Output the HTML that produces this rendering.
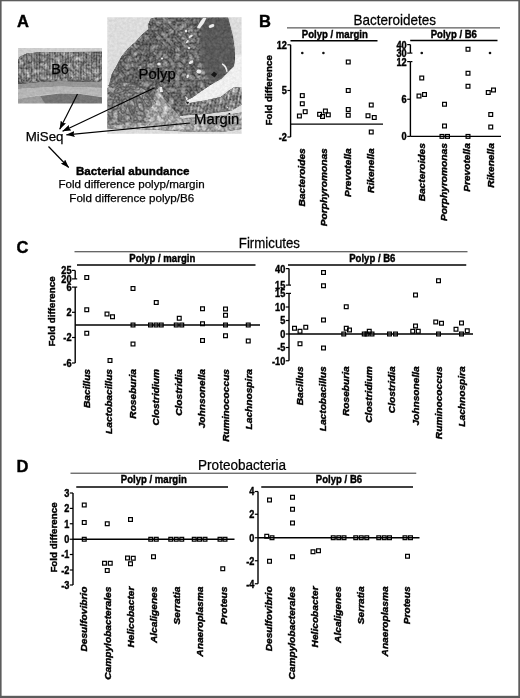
<!DOCTYPE html>
<html lang="en"><head><meta charset="utf-8"><title>Figure</title>
<style>
html,body{margin:0;padding:0;background:#fff}
svg{display:block}
text{font-family:"Liberation Sans",Arial,sans-serif;fill:#000;stroke:#000;stroke-width:0.25px}
text[font-weight=bold]{stroke-width:0.4px}
</style></head><body>
<svg width="520" height="698" viewBox="0 0 520 698">
<rect x="0" y="0" width="520" height="698" fill="#fff"/>
<g fill="#5c5c5c"><rect x="0" y="0" width="520" height="1.3"/><rect x="0" y="0" width="1.6" height="698"/><rect x="518.3" y="0" width="1.7" height="698"/><rect x="0" y="695.8" width="520" height="2.2"/></g>

<!--PANEL_A-->
<text x="17" y="27" font-weight="bold" font-size="16.5">A</text>
<defs>
<filter id="tex" x="0" y="0" width="100%" height="100%" color-interpolation-filters="sRGB">
<feTurbulence type="fractalNoise" baseFrequency="0.5" numOctaves="2" seed="7" result="t"/>
<feColorMatrix in="t" type="matrix" values="1 0 0 0 0  1 0 0 0 0  1 0 0 0 0  0 0 0 0 1" result="g"/>
<feTurbulence type="turbulence" baseFrequency="0.16" numOctaves="2" seed="23" result="t2"/>
<feColorMatrix in="t2" type="matrix" values="0 1 0 0 0  0 1 0 0 0  0 1 0 0 0  0 0 0 0 1" result="g2"/>
<feComposite in="SourceGraphic" in2="g" operator="arithmetic" k1="0" k2="1" k3="0.4" k4="-0.2" result="c"/>
<feComposite in="c" in2="g2" operator="arithmetic" k1="0" k2="1" k3="0.55" k4="-0.13" result="c2"/>
<feComposite in="c2" in2="SourceGraphic" operator="in"/>
</filter>
<filter id="texL" x="0" y="0" width="100%" height="100%" color-interpolation-filters="sRGB">
<feTurbulence type="fractalNoise" baseFrequency="0.4" numOctaves="2" seed="11" result="t"/>
<feColorMatrix in="t" type="matrix" values="1 0 0 0 0  1 0 0 0 0  1 0 0 0 0  0 0 0 0 1" result="g"/>
<feComposite in="SourceGraphic" in2="g" operator="arithmetic" k1="0" k2="1" k3="0.12" k4="-0.06" result="c"/>
<feComposite in="c" in2="SourceGraphic" operator="in"/>
</filter>
<filter id="b1" x="-20%" y="-20%" width="140%" height="140%"><feGaussianBlur stdDeviation="0.5"/></filter>
<filter id="b2" x="-5%" y="-5%" width="110%" height="110%"><feGaussianBlur stdDeviation="0.8"/></filter>
<pattern id="vst" width="2.6" height="8" patternUnits="userSpaceOnUse"><rect x="0" y="0" width="1.1" height="8" fill="#555"/><rect x="1.3" y="0" width="0.9" height="8" fill="#aaa"/></pattern>
<pattern id="vst2" width="3.4" height="8" patternUnits="userSpaceOnUse" patternTransform="rotate(12)"><rect x="0" y="0" width="1.3" height="8" fill="#4a4a4a"/><rect x="1.7" y="0" width="1.2" height="8" fill="#b4b4b4"/></pattern>
<clipPath id="cB6"><rect x="18" y="48" width="84" height="55.5"/></clipPath>
<clipPath id="cPo"><rect x="107.3" y="17.2" width="134.3" height="116.6"/></clipPath>
</defs>
<g id="imgB6" clip-path="url(#cB6)">
<g filter="url(#texL)">
<rect x="17" y="47" width="86" height="58" fill="#cecece"/>
<path d="M17,82.5 L40,81 L60,80.5 L103,81.5 L103,88 L60,86.5 L17,89 Z" fill="#969696"/>
<path d="M17,89 L60,86.5 L103,88 L103,97 L80,93.5 L60,93 L40,95 L17,99 Z" fill="#b6b6b6"/>
<path d="M17,100 L40,96 L60,93.6 L80,94 L103,97.5 L103,105 L17,105 Z" fill="#747474"/>
<path d="M17,99 L40,95.5 L46,105 L17,105 Z" fill="#9c9c9c"/>
</g>
<g filter="url(#tex)">
<path d="M17,62 L20,56.5 L27,53.4 L40,52.3 L103,51.8 L103,82 L60,81 L40,82 L17,84 Z" fill="#767676"/>
<path d="M17,62 L20,56.5 L27,53.4 L40,52.3 L103,51.8 L103,80 L60,79 L40,80 L17,82 Z" fill="url(#vst)" opacity="0.6"/>
</g>
</g>
<g id="imgPolyp" clip-path="url(#cPo)">
<g filter="url(#texL)"><rect x="107" y="17" width="135" height="117" fill="#dcdcdc"/><path d="M236,55 L242,55 L242,90 L228,93 L207,101 L188,104 L187,98 L201,90 L211,83 L221,77 L229,69 L234,63 Z" fill="#efefef" filter="url(#b2)"/></g>
<g filter="url(#tex)">
<g filter="url(#b1)">
<path d="M107,123 L150,116.5 L185,118 L215,116.5 L242,112.5 L242,129 L225,131.5 L185,131.5 L150,129.5 L107,128.5 Z" fill="#a0a0a0"/>
<path d="M150.8,18.4 L155,17.4 L228,17.4 L232.9,36.5 L235,52 L235,60 L233.75,66.25 L229.4,70.6 L226.25,73.75 L221.25,78.75 L211.25,84.4 L201.25,91.25 L192.5,97.5 L186.5,100.6 L183,116 L166,114 L150,112 L131.7,121 L111.5,121.5 L107,122.5 L107,95 L108.5,91.7 L109.7,82.3 L111.7,74.2 L116.4,66.1 L121.2,56.7 L127.9,48.6 L135.3,41.9 L141.3,35.2 L148.5,29 L147.8,25 L150.8,18.4 Z" fill="#676767"/>
<path d="M107,88 L118,83.5 L132,82 L145.4,90.4 L154.8,103.8 L149.4,122.7 L131.7,123 L107,125.4 Z" fill="#7c7c7c"/>
<path d="M156,90 L159,88 L163,97 L172,108 L180,117 L166,119.5 L144,121.5 L151,105 Z" fill="#a2a2a2"/>
<path d="M187,103.5 L207,100 L220.8,97 L228.5,90.8 L234.6,87 L242,87.7 L242,104.6 L231.5,110.8 L208.5,113.8 L183,115.5 L186,101 Z" fill="#7e7e7e"/>
<path d="M187,103.5 L207,100 L220.8,97 L228.5,90.8 L234.6,87 L242,87.7 L242,104.6 L231.5,109.8 L208.5,112.8 L185.4,113.5 Z" fill="url(#vst2)" opacity="0.45"/>
</g>
</g>
<g filter="url(#texL)"><path d="M201,19 L228,17 L232.9,36.5 L235,52 L235,60 L233.75,66.25 L229.4,70.6 L226.25,73.75 L221.25,78.75 L212,83.5 L205,76 L199,55 Z" fill="#5a5a5a" opacity="0.85" filter="url(#b2)"/></g>
<g fill="none" stroke="#555" stroke-width="1.1" opacity="0.8" filter="url(#b1)">
<ellipse cx="116" cy="103" rx="3" ry="7" transform="rotate(15 116 103)"/>
<ellipse cx="124" cy="106" rx="3" ry="7.5" transform="rotate(10 124 106)"/>
<ellipse cx="132" cy="106" rx="3" ry="8" transform="rotate(-5 132 106)"/>
<ellipse cx="140" cy="104" rx="3" ry="8" transform="rotate(-20 140 104)"/>
<ellipse cx="147" cy="101" rx="2.6" ry="7" transform="rotate(-35 147 101)"/>
<ellipse cx="120" cy="90" rx="6" ry="2.5" transform="rotate(-20 120 90)"/>
<ellipse cx="134" cy="87" rx="6" ry="2.5" transform="rotate(15 134 87)"/>
<path d="M108,86 C118,80 132,80 146,90 L156,103"/>
</g>
<path d="M214,71.4 l3.2,2.6 l-2.6,3.4 l-3.6,-2.6 Z" fill="#161616"/>
<path d="M185.6,101.5 l3.6,0.4 l-1.6,2.4 Z" fill="#1c1c1c"/>
<g fill="#ececec" filter="url(#b1)">
<ellipse cx="191" cy="62.2" rx="2.6" ry="1.4" transform="rotate(-30 191 62.2)"/>
<ellipse cx="198.8" cy="71.5" rx="2.4" ry="1.9"/>
<ellipse cx="187.7" cy="76.3" rx="1.2" ry="2" transform="rotate(15 187.7 76.3)"/>
<ellipse cx="211.5" cy="26" rx="3" ry="1.6" transform="rotate(-20 211.5 26)"/>
<ellipse cx="190.6" cy="36.4" rx="2.4" ry="1.1" transform="rotate(-35 190.6 36.4)"/><ellipse cx="187.3" cy="41.6" rx="1.8" ry="0.9" transform="rotate(-50 187.3 41.6)"/><ellipse cx="159" cy="64" rx="1.8" ry="1.6"/><ellipse cx="162" cy="58.6" rx="1.2" ry="1"/><ellipse cx="186" cy="31" rx="1.2" ry="1.6"/>
<ellipse cx="189" cy="47.9" rx="1.3" ry="1"/>

<path d="M203,18 L206.5,18 L204,23 L199.8,28.5 L196.8,27.5 L200,22 Z"/>
<path d="M159.5,87 l2.5,0 l1,5 l-3,0 Z"/>
<path d="M222.3,63.2 q4.8,1.6 5.4,8.6 l-1.4,0.2 q-0.8,-5 -4.6,-7.4 Z"/>
<path d="M185.2,96 l3.2,3 l-2.4,1.2 Z"/>
</g>
</g>

<text x="51.3" y="74.2" font-size="14.3">B6</text>
<text x="138.6" y="79.3" font-size="14.8">Polyp</text>
<text x="194.1" y="123.9" font-size="14.8">Margin</text>
<text x="25.8" y="141.4" font-size="13.3">MiSeq</text>
<text x="76" y="174.5" font-weight="bold" font-size="11.6">Bacterial abundance</text>
<text x="58.5" y="188.2" font-size="11.6">Fold difference polyp/margin</text>
<text x="69.3" y="202" font-size="11.6">Fold difference polyp/B6</text>
<defs><marker id="ah" markerWidth="9" markerHeight="6" refX="8.3" refY="3" orient="auto" markerUnits="userSpaceOnUse"><path d="M0,0 L8.6,3 L0,6 L1.2,3 Z" fill="#000"/></marker></defs>
<g stroke="#000" stroke-width="1.2" fill="none" marker-end="url(#ah)">
<line x1="77.5" y1="94" x2="59.7" y2="129.3"/>
<line x1="154.6" y1="87.7" x2="62.6" y2="131.2"/>
<line x1="190.4" y1="123" x2="66.4" y2="134.8"/>
<line x1="48.5" y1="146.5" x2="68.7" y2="167.5"/>
</g>
<!--PANEL_B-->
<text x="259" y="27" font-weight="bold" font-size="16.5">B</text>
<text transform="translate(394.8,25.4) scale(0.939,1)" text-anchor="middle" font-size="14.4">Bacteroidetes</text>
<line x1="287" y1="27.9" x2="500" y2="27.9" stroke="#333" stroke-width="1.0"/>
<text transform="translate(334.8,37.90) scale(0.93,1)" text-anchor="middle" font-weight="bold" font-size="10.3">Polyp / margin</text>
<line x1="290.5" y1="40.7" x2="377.5" y2="40.7" stroke="#000" stroke-width="1.5"/>
<line x1="290.6" y1="44.8" x2="290.6" y2="137" stroke="#000" stroke-width="1.4"/>
<line x1="287.40000000000003" y1="44.8" x2="290.6" y2="44.8" stroke="#000" stroke-width="1.2"/>
<text transform="translate(286.90,48.70) scale(0.9,1)" text-anchor="end" font-weight="bold" font-size="10.2">12</text>
<line x1="287.40000000000003" y1="90.5" x2="290.6" y2="90.5" stroke="#000" stroke-width="1.2"/>
<text transform="translate(286.90,94.40) scale(0.9,1)" text-anchor="end" font-weight="bold" font-size="10.2">5</text>
<line x1="287.40000000000003" y1="137" x2="290.6" y2="137" stroke="#000" stroke-width="1.2"/>
<text transform="translate(286.90,140.90) scale(0.9,1)" text-anchor="end" font-weight="bold" font-size="10.2">-2</text>
<line x1="290.6" y1="124.2" x2="383" y2="124.2" stroke="#000" stroke-width="1.3"/>
<text transform="translate(271.75,90.3) rotate(-90) scale(1.09,1)" text-anchor="middle" font-weight="bold" font-size="9">Fold difference</text>
<g fill="#111"><circle cx="302.3" cy="53" r="1.3"/><circle cx="323.4" cy="53" r="1.3"/></g>
<g fill="none" stroke="#000" stroke-width="1.2"><rect x="300.40" y="93.70" width="3.8" height="3.8"/><rect x="300.40" y="101.85" width="3.8" height="3.8"/><rect x="303.30" y="109.80" width="3.8" height="3.8"/><rect x="297.50" y="114.10" width="3.8" height="3.8"/><rect x="323.50" y="109.10" width="3.8" height="3.8"/><rect x="317.70" y="112.40" width="3.8" height="3.8"/><rect x="320.60" y="114.60" width="3.8" height="3.8"/><rect x="326.40" y="112.90" width="3.8" height="3.8"/><rect x="346.35" y="60.10" width="3.8" height="3.8"/><rect x="346.35" y="88.60" width="3.8" height="3.8"/><rect x="346.35" y="107.60" width="3.8" height="3.8"/><rect x="346.35" y="113.35" width="3.8" height="3.8"/><rect x="369.35" y="103.10" width="3.8" height="3.8"/><rect x="366.10" y="113.85" width="3.8" height="3.8"/><rect x="372.35" y="115.60" width="3.8" height="3.8"/><rect x="369.35" y="130.10" width="3.8" height="3.8"/></g>
<text transform="translate(305.40,148.3) rotate(-90) scale(1.13,1)" text-anchor="end" font-weight="bold" font-style="italic" font-size="9">Bacteroides</text>
<text transform="translate(327.40,148.3) rotate(-90) scale(1.13,1)" text-anchor="end" font-weight="bold" font-style="italic" font-size="9">Porphyromonas</text>
<text transform="translate(350.90,148.3) rotate(-90) scale(1.13,1)" text-anchor="end" font-weight="bold" font-style="italic" font-size="9">Prevotella</text>
<text transform="translate(374.40,148.3) rotate(-90) scale(1.13,1)" text-anchor="end" font-weight="bold" font-style="italic" font-size="9">Rikenella</text>
<text transform="translate(453.8,37.90) scale(0.93,1)" text-anchor="middle" font-weight="bold" font-size="10.3">Polyp / B6</text>
<line x1="410.2" y1="40.6" x2="497.5" y2="40.6" stroke="#000" stroke-width="1.5"/>
<line x1="410.4" y1="44.6" x2="410.4" y2="53.1" stroke="#000" stroke-width="1.4"/>
<line x1="410.4" y1="61.6" x2="410.4" y2="136.4" stroke="#000" stroke-width="1.4"/>
<line x1="407.2" y1="44.6" x2="410.4" y2="44.6" stroke="#000" stroke-width="1.2"/>
<text transform="translate(406.70,48.50) scale(0.9,1)" text-anchor="end" font-weight="bold" font-size="10.2">40</text>
<line x1="407.2" y1="53.1" x2="410.4" y2="53.1" stroke="#000" stroke-width="1.2"/>
<text transform="translate(406.70,57.00) scale(0.9,1)" text-anchor="end" font-weight="bold" font-size="10.2">30</text>
<line x1="407.2" y1="61.6" x2="410.4" y2="61.6" stroke="#000" stroke-width="1.2"/>
<text transform="translate(406.70,65.50) scale(0.9,1)" text-anchor="end" font-weight="bold" font-size="10.2">12</text>
<line x1="407.2" y1="99.25" x2="410.4" y2="99.25" stroke="#000" stroke-width="1.2"/>
<text transform="translate(406.70,103.15) scale(0.9,1)" text-anchor="end" font-weight="bold" font-size="10.2">6</text>
<line x1="407.2" y1="136.4" x2="410.4" y2="136.4" stroke="#000" stroke-width="1.2"/>
<text transform="translate(406.70,140.30) scale(0.9,1)" text-anchor="end" font-weight="bold" font-size="10.2">0</text>
<line x1="410.4" y1="136.4" x2="501" y2="136.4" stroke="#000" stroke-width="1.3"/>
<line x1="410.4" y1="53.1" x2="412.4" y2="53.1" stroke="#000" stroke-width="1.2"/>
<line x1="410.4" y1="61.6" x2="412.4" y2="61.6" stroke="#000" stroke-width="1.2"/>
<g fill="#111"><circle cx="421.75" cy="53" r="1.3"/><circle cx="490" cy="53" r="1.3"/></g>
<g fill="none" stroke="#000" stroke-width="1.2"><rect x="419.85" y="76.10" width="3.8" height="3.8"/><rect x="417.10" y="94.10" width="3.8" height="3.8"/><rect x="422.60" y="92.60" width="3.8" height="3.8"/><rect x="442.60" y="102.35" width="3.8" height="3.8"/><rect x="442.60" y="124.10" width="3.8" height="3.8"/><rect x="440.10" y="134.50" width="3.8" height="3.8"/><rect x="445.60" y="134.50" width="3.8" height="3.8"/><rect x="466.10" y="47.35" width="3.8" height="3.8"/><rect x="466.10" y="71.35" width="3.8" height="3.8"/><rect x="466.10" y="84.35" width="3.8" height="3.8"/><rect x="466.10" y="134.50" width="3.8" height="3.8"/><rect x="486.35" y="90.60" width="3.8" height="3.8"/><rect x="491.60" y="88.10" width="3.8" height="3.8"/><rect x="488.85" y="112.60" width="3.8" height="3.8"/><rect x="488.85" y="125.10" width="3.8" height="3.8"/></g>
<text transform="translate(424.65,143.2) rotate(-90) scale(1.13,1)" text-anchor="end" font-weight="bold" font-style="italic" font-size="9">Bacteroides</text>
<text transform="translate(447.40,143.2) rotate(-90) scale(1.13,1)" text-anchor="end" font-weight="bold" font-style="italic" font-size="9">Porphyromonas</text>
<text transform="translate(470.40,143.2) rotate(-90) scale(1.13,1)" text-anchor="end" font-weight="bold" font-style="italic" font-size="9">Prevotella</text>
<text transform="translate(493.65,143.2) rotate(-90) scale(1.13,1)" text-anchor="end" font-weight="bold" font-style="italic" font-size="9">Rikenella</text>
<!--PANEL_C-->
<text x="16.5" y="253" font-weight="bold" font-size="16.5">C</text>
<text transform="translate(269.4,247.5) scale(0.922,1)" text-anchor="middle" font-size="14.4">Firmicutes</text>
<line x1="74.5" y1="251.75" x2="467.5" y2="251.75" stroke="#333" stroke-width="1.0"/>
<text transform="translate(162.3,261.90) scale(0.93,1)" text-anchor="middle" font-weight="bold" font-size="10.3">Polyp / margin</text>
<line x1="77" y1="265" x2="255.5" y2="265" stroke="#000" stroke-width="1.5"/>
<line x1="75.2" y1="270.4" x2="75.2" y2="278.9" stroke="#000" stroke-width="1.4"/>
<line x1="75.2" y1="287.1" x2="75.2" y2="363" stroke="#000" stroke-width="1.4"/>
<line x1="72.0" y1="270.4" x2="75.2" y2="270.4" stroke="#000" stroke-width="1.2"/>
<text transform="translate(71.50,274.30) scale(0.9,1)" text-anchor="end" font-weight="bold" font-size="10.2">25</text>
<line x1="72.0" y1="278.9" x2="75.2" y2="278.9" stroke="#000" stroke-width="1.2"/>
<text transform="translate(71.50,282.80) scale(0.9,1)" text-anchor="end" font-weight="bold" font-size="10.2">20</text>
<line x1="72.0" y1="287.1" x2="75.2" y2="287.1" stroke="#000" stroke-width="1.2"/>
<text transform="translate(71.50,291.00) scale(0.9,1)" text-anchor="end" font-weight="bold" font-size="10.2">6</text>
<line x1="72.0" y1="312.3" x2="75.2" y2="312.3" stroke="#000" stroke-width="1.2"/>
<text transform="translate(71.50,316.20) scale(0.9,1)" text-anchor="end" font-weight="bold" font-size="10.2">2</text>
<line x1="72.0" y1="337.5" x2="75.2" y2="337.5" stroke="#000" stroke-width="1.2"/>
<text transform="translate(71.50,341.40) scale(0.9,1)" text-anchor="end" font-weight="bold" font-size="10.2">-2</text>
<line x1="72.0" y1="363" x2="75.2" y2="363" stroke="#000" stroke-width="1.2"/>
<text transform="translate(71.50,366.90) scale(0.9,1)" text-anchor="end" font-weight="bold" font-size="10.2">-6</text>
<line x1="75.2" y1="325" x2="260" y2="325" stroke="#000" stroke-width="1.3"/>
<line x1="75.2" y1="278.9" x2="77.2" y2="278.9" stroke="#000" stroke-width="1.2"/>
<line x1="75.2" y1="287.1" x2="77.2" y2="287.1" stroke="#000" stroke-width="1.2"/>
<text transform="translate(55.00,311.5) rotate(-90) scale(1.09,1)" text-anchor="middle" font-weight="bold" font-size="9">Fold difference</text>
<g fill="none" stroke="#000" stroke-width="1.2"><rect x="84.85" y="275.60" width="3.8" height="3.8"/><rect x="84.85" y="307.85" width="3.8" height="3.8"/><rect x="84.85" y="331.35" width="3.8" height="3.8"/><rect x="105.10" y="312.10" width="3.8" height="3.8"/><rect x="110.60" y="314.85" width="3.8" height="3.8"/><rect x="108.10" y="358.60" width="3.8" height="3.8"/><rect x="131.10" y="286.60" width="3.8" height="3.8"/><rect x="131.10" y="323.10" width="3.8" height="3.8"/><rect x="131.10" y="342.10" width="3.8" height="3.8"/><rect x="154.35" y="300.60" width="3.8" height="3.8"/><rect x="148.60" y="323.10" width="3.8" height="3.8"/><rect x="154.10" y="323.10" width="3.8" height="3.8"/><rect x="159.35" y="323.10" width="3.8" height="3.8"/><rect x="177.35" y="316.35" width="3.8" height="3.8"/><rect x="174.35" y="323.10" width="3.8" height="3.8"/><rect x="179.85" y="323.10" width="3.8" height="3.8"/><rect x="200.60" y="306.85" width="3.8" height="3.8"/><rect x="200.60" y="321.85" width="3.8" height="3.8"/><rect x="200.60" y="338.60" width="3.8" height="3.8"/><rect x="223.60" y="307.10" width="3.8" height="3.8"/><rect x="223.60" y="313.35" width="3.8" height="3.8"/><rect x="223.60" y="323.10" width="3.8" height="3.8"/><rect x="223.60" y="333.85" width="3.8" height="3.8"/><rect x="246.35" y="323.10" width="3.8" height="3.8"/><rect x="246.35" y="339.10" width="3.8" height="3.8"/></g>
<text transform="translate(89.90,369) rotate(-90) scale(1.13,1)" text-anchor="end" font-weight="bold" font-style="italic" font-size="9">Bacillus</text>
<text transform="translate(112.20,369) rotate(-90) scale(1.13,1)" text-anchor="end" font-weight="bold" font-style="italic" font-size="9">Lactobacillus</text>
<text transform="translate(135.60,369) rotate(-90) scale(1.13,1)" text-anchor="end" font-weight="bold" font-style="italic" font-size="9">Roseburia</text>
<text transform="translate(158.60,369) rotate(-90) scale(1.13,1)" text-anchor="end" font-weight="bold" font-style="italic" font-size="9">Clostridium</text>
<text transform="translate(181.60,369) rotate(-90) scale(1.13,1)" text-anchor="end" font-weight="bold" font-style="italic" font-size="9">Clostridia</text>
<text transform="translate(205.10,369) rotate(-90) scale(1.13,1)" text-anchor="end" font-weight="bold" font-style="italic" font-size="9">Johnsonella</text>
<text transform="translate(228.50,369) rotate(-90) scale(1.13,1)" text-anchor="end" font-weight="bold" font-style="italic" font-size="9">Ruminococcus</text>
<text transform="translate(251.50,369) rotate(-90) scale(1.13,1)" text-anchor="end" font-weight="bold" font-style="italic" font-size="9">Lachnospira</text>
<text transform="translate(372.3,261.90) scale(0.93,1)" text-anchor="middle" font-weight="bold" font-size="10.3">Polyp / B6</text>
<line x1="288" y1="265" x2="466.25" y2="265" stroke="#000" stroke-width="1.5"/>
<line x1="289.0" y1="268.6" x2="289.0" y2="285.1" stroke="#000" stroke-width="1.4"/>
<line x1="289.0" y1="293.4" x2="289.0" y2="360.75" stroke="#000" stroke-width="1.4"/>
<line x1="285.8" y1="268.6" x2="289.0" y2="268.6" stroke="#000" stroke-width="1.2"/>
<text transform="translate(285.30,272.50) scale(0.9,1)" text-anchor="end" font-weight="bold" font-size="10.2">40</text>
<line x1="285.8" y1="285.1" x2="289.0" y2="285.1" stroke="#000" stroke-width="1.2"/>
<text transform="translate(285.30,289.00) scale(0.9,1)" text-anchor="end" font-weight="bold" font-size="10.2">15</text>
<line x1="285.8" y1="293.4" x2="289.0" y2="293.4" stroke="#000" stroke-width="1.2"/>
<text transform="translate(285.30,297.30) scale(0.9,1)" text-anchor="end" font-weight="bold" font-size="10.2">15</text>
<line x1="285.8" y1="307" x2="289.0" y2="307" stroke="#000" stroke-width="1.2"/>
<text transform="translate(285.30,310.90) scale(0.9,1)" text-anchor="end" font-weight="bold" font-size="10.2">10</text>
<line x1="285.8" y1="320.5" x2="289.0" y2="320.5" stroke="#000" stroke-width="1.2"/>
<text transform="translate(285.30,324.40) scale(0.9,1)" text-anchor="end" font-weight="bold" font-size="10.2">5</text>
<line x1="285.8" y1="334" x2="289.0" y2="334" stroke="#000" stroke-width="1.2"/>
<text transform="translate(285.30,337.90) scale(0.9,1)" text-anchor="end" font-weight="bold" font-size="10.2">0</text>
<line x1="285.8" y1="347.5" x2="289.0" y2="347.5" stroke="#000" stroke-width="1.2"/>
<text transform="translate(285.30,351.40) scale(0.9,1)" text-anchor="end" font-weight="bold" font-size="10.2">-5</text>
<line x1="285.8" y1="360.75" x2="289.0" y2="360.75" stroke="#000" stroke-width="1.2"/>
<text transform="translate(285.30,364.65) scale(0.9,1)" text-anchor="end" font-weight="bold" font-size="10.2">-10</text>
<line x1="289.0" y1="334" x2="473" y2="334" stroke="#000" stroke-width="1.3"/>
<line x1="289.0" y1="285.1" x2="291" y2="285.1" stroke="#000" stroke-width="1.2"/>
<line x1="289.0" y1="293.4" x2="291" y2="293.4" stroke="#000" stroke-width="1.2"/>
<g fill="none" stroke="#000" stroke-width="1.2"><rect x="292.60" y="326.35" width="3.8" height="3.8"/><rect x="298.10" y="329.35" width="3.8" height="3.8"/><rect x="303.85" y="325.35" width="3.8" height="3.8"/><rect x="298.10" y="341.85" width="3.8" height="3.8"/><rect x="321.60" y="270.60" width="3.8" height="3.8"/><rect x="321.60" y="283.85" width="3.8" height="3.8"/><rect x="321.60" y="318.10" width="3.8" height="3.8"/><rect x="321.60" y="346.10" width="3.8" height="3.8"/><rect x="344.35" y="304.85" width="3.8" height="3.8"/><rect x="344.35" y="326.35" width="3.8" height="3.8"/><rect x="347.60" y="328.10" width="3.8" height="3.8"/><rect x="341.85" y="332.10" width="3.8" height="3.8"/><rect x="367.35" y="329.35" width="3.8" height="3.8"/><rect x="362.35" y="332.10" width="3.8" height="3.8"/><rect x="365.10" y="332.10" width="3.8" height="3.8"/><rect x="370.10" y="332.10" width="3.8" height="3.8"/><rect x="387.60" y="332.10" width="3.8" height="3.8"/><rect x="393.60" y="332.10" width="3.8" height="3.8"/><rect x="413.60" y="293.10" width="3.8" height="3.8"/><rect x="413.60" y="324.10" width="3.8" height="3.8"/><rect x="410.85" y="329.35" width="3.8" height="3.8"/><rect x="416.35" y="329.35" width="3.8" height="3.8"/><rect x="436.60" y="278.85" width="3.8" height="3.8"/><rect x="433.85" y="320.10" width="3.8" height="3.8"/><rect x="439.60" y="321.35" width="3.8" height="3.8"/><rect x="436.60" y="332.10" width="3.8" height="3.8"/><rect x="459.60" y="321.10" width="3.8" height="3.8"/><rect x="454.10" y="327.35" width="3.8" height="3.8"/><rect x="465.35" y="328.85" width="3.8" height="3.8"/><rect x="459.60" y="332.10" width="3.8" height="3.8"/></g>
<text transform="translate(303.20,366.3) rotate(-90) scale(1.13,1)" text-anchor="end" font-weight="bold" font-style="italic" font-size="9">Bacillus</text>
<text transform="translate(326.20,366.3) rotate(-90) scale(1.13,1)" text-anchor="end" font-weight="bold" font-style="italic" font-size="9">Lactobacillus</text>
<text transform="translate(348.90,366.3) rotate(-90) scale(1.13,1)" text-anchor="end" font-weight="bold" font-style="italic" font-size="9">Roseburia</text>
<text transform="translate(372.40,366.3) rotate(-90) scale(1.13,1)" text-anchor="end" font-weight="bold" font-style="italic" font-size="9">Clostridium</text>
<text transform="translate(395.30,366.3) rotate(-90) scale(1.13,1)" text-anchor="end" font-weight="bold" font-style="italic" font-size="9">Clostridia</text>
<text transform="translate(418.90,366.3) rotate(-90) scale(1.13,1)" text-anchor="end" font-weight="bold" font-style="italic" font-size="9">Johnsonella</text>
<text transform="translate(441.70,366.3) rotate(-90) scale(1.13,1)" text-anchor="end" font-weight="bold" font-style="italic" font-size="9">Ruminococcus</text>
<text transform="translate(464.70,366.3) rotate(-90) scale(1.13,1)" text-anchor="end" font-weight="bold" font-style="italic" font-size="9">Lachnospira</text>
<!--PANEL_D-->
<text x="16.5" y="471.7" font-weight="bold" font-size="16.5">D</text>
<text transform="translate(242.1,470) scale(0.942,1)" text-anchor="middle" font-size="14.4">Proteobacteria</text>
<line x1="70.5" y1="473.2" x2="416.25" y2="473.2" stroke="#333" stroke-width="1.0"/>
<text transform="translate(153.75,483.40) scale(0.93,1)" text-anchor="middle" font-weight="bold" font-size="10.3">Polyp / margin</text>
<line x1="76.25" y1="487" x2="228" y2="487" stroke="#000" stroke-width="1.5"/>
<line x1="73" y1="493" x2="73" y2="585" stroke="#000" stroke-width="1.4"/>
<line x1="69.8" y1="493" x2="73" y2="493" stroke="#000" stroke-width="1.2"/>
<text transform="translate(69.30,496.90) scale(0.9,1)" text-anchor="end" font-weight="bold" font-size="10.2">3</text>
<line x1="69.8" y1="508.4" x2="73" y2="508.4" stroke="#000" stroke-width="1.2"/>
<text transform="translate(69.30,512.30) scale(0.9,1)" text-anchor="end" font-weight="bold" font-size="10.2">2</text>
<line x1="69.8" y1="523.75" x2="73" y2="523.75" stroke="#000" stroke-width="1.2"/>
<text transform="translate(69.30,527.65) scale(0.9,1)" text-anchor="end" font-weight="bold" font-size="10.2">1</text>
<line x1="69.8" y1="539.25" x2="73" y2="539.25" stroke="#000" stroke-width="1.2"/>
<text transform="translate(69.30,543.15) scale(0.9,1)" text-anchor="end" font-weight="bold" font-size="10.2">0</text>
<line x1="69.8" y1="554.5" x2="73" y2="554.5" stroke="#000" stroke-width="1.2"/>
<text transform="translate(69.30,558.40) scale(0.9,1)" text-anchor="end" font-weight="bold" font-size="10.2">-1</text>
<line x1="69.8" y1="570" x2="73" y2="570" stroke="#000" stroke-width="1.2"/>
<text transform="translate(69.30,573.90) scale(0.9,1)" text-anchor="end" font-weight="bold" font-size="10.2">-2</text>
<line x1="69.8" y1="585" x2="73" y2="585" stroke="#000" stroke-width="1.2"/>
<text transform="translate(69.30,588.90) scale(0.9,1)" text-anchor="end" font-weight="bold" font-size="10.2">-3</text>
<line x1="73" y1="539.25" x2="234.5" y2="539.25" stroke="#000" stroke-width="1.3"/>
<text transform="translate(56.75,537.5) rotate(-90) scale(1.09,1)" text-anchor="middle" font-weight="bold" font-size="9">Fold difference</text>
<g fill="none" stroke="#000" stroke-width="1.2"><rect x="82.35" y="503.10" width="3.8" height="3.8"/><rect x="82.35" y="520.60" width="3.8" height="3.8"/><rect x="82.35" y="537.35" width="3.8" height="3.8"/><rect x="105.35" y="521.85" width="3.8" height="3.8"/><rect x="102.60" y="561.35" width="3.8" height="3.8"/><rect x="108.35" y="561.35" width="3.8" height="3.8"/><rect x="105.35" y="568.60" width="3.8" height="3.8"/><rect x="128.60" y="517.60" width="3.8" height="3.8"/><rect x="125.60" y="556.10" width="3.8" height="3.8"/><rect x="131.35" y="556.35" width="3.8" height="3.8"/><rect x="128.60" y="561.85" width="3.8" height="3.8"/><rect x="148.85" y="537.35" width="3.8" height="3.8"/><rect x="154.35" y="537.35" width="3.8" height="3.8"/><rect x="151.60" y="554.85" width="3.8" height="3.8"/><rect x="168.85" y="537.35" width="3.8" height="3.8"/><rect x="174.35" y="537.35" width="3.8" height="3.8"/><rect x="179.85" y="537.35" width="3.8" height="3.8"/><rect x="192.35" y="537.35" width="3.8" height="3.8"/><rect x="197.60" y="537.35" width="3.8" height="3.8"/><rect x="203.10" y="537.35" width="3.8" height="3.8"/><rect x="218.10" y="537.35" width="3.8" height="3.8"/><rect x="223.10" y="537.35" width="3.8" height="3.8"/><rect x="220.85" y="566.85" width="3.8" height="3.8"/></g>
<text transform="translate(87.20,586.6) rotate(-90) scale(1.13,1)" text-anchor="end" font-weight="bold" font-style="italic" font-size="9">Desulfovibrio</text>
<text transform="translate(110.70,586.6) rotate(-90) scale(1.13,1)" text-anchor="end" font-weight="bold" font-style="italic" font-size="9">Campylobacterales</text>
<text transform="translate(133.70,586.6) rotate(-90) scale(1.13,1)" text-anchor="end" font-weight="bold" font-style="italic" font-size="9">Helicobacter</text>
<text transform="translate(157.10,586.6) rotate(-90) scale(1.13,1)" text-anchor="end" font-weight="bold" font-style="italic" font-size="9">Alcaligenes</text>
<text transform="translate(180.10,586.6) rotate(-90) scale(1.13,1)" text-anchor="end" font-weight="bold" font-style="italic" font-size="9">Serratia</text>
<text transform="translate(203.10,586.6) rotate(-90) scale(1.13,1)" text-anchor="end" font-weight="bold" font-style="italic" font-size="9">Anaeroplasma</text>
<text transform="translate(226.60,586.6) rotate(-90) scale(1.13,1)" text-anchor="end" font-weight="bold" font-style="italic" font-size="9">Proteus</text>
<text transform="translate(339,483.40) scale(0.93,1)" text-anchor="middle" font-weight="bold" font-size="10.3">Polyp / B6</text>
<line x1="261.25" y1="487" x2="413" y2="487" stroke="#000" stroke-width="1.5"/>
<line x1="258" y1="491.5" x2="258" y2="583.75" stroke="#000" stroke-width="1.4"/>
<line x1="254.8" y1="491.5" x2="258" y2="491.5" stroke="#000" stroke-width="1.2"/>
<text transform="translate(254.30,495.40) scale(0.9,1)" text-anchor="end" font-weight="bold" font-size="10.2">4</text>
<line x1="254.8" y1="514.25" x2="258" y2="514.25" stroke="#000" stroke-width="1.2"/>
<text transform="translate(254.30,518.15) scale(0.9,1)" text-anchor="end" font-weight="bold" font-size="10.2">2</text>
<line x1="254.8" y1="537.75" x2="258" y2="537.75" stroke="#000" stroke-width="1.2"/>
<text transform="translate(254.30,541.65) scale(0.9,1)" text-anchor="end" font-weight="bold" font-size="10.2">0</text>
<line x1="254.8" y1="560.75" x2="258" y2="560.75" stroke="#000" stroke-width="1.2"/>
<text transform="translate(254.30,564.65) scale(0.9,1)" text-anchor="end" font-weight="bold" font-size="10.2">-2</text>
<line x1="254.8" y1="583.75" x2="258" y2="583.75" stroke="#000" stroke-width="1.2"/>
<text transform="translate(254.30,587.65) scale(0.9,1)" text-anchor="end" font-weight="bold" font-size="10.2">-4</text>
<line x1="258" y1="537.75" x2="419.5" y2="537.75" stroke="#000" stroke-width="1.3"/>
<g fill="none" stroke="#000" stroke-width="1.2"><rect x="267.60" y="498.10" width="3.8" height="3.8"/><rect x="264.85" y="534.35" width="3.8" height="3.8"/><rect x="270.10" y="535.85" width="3.8" height="3.8"/><rect x="267.60" y="559.35" width="3.8" height="3.8"/><rect x="290.60" y="495.35" width="3.8" height="3.8"/><rect x="290.60" y="507.35" width="3.8" height="3.8"/><rect x="290.60" y="521.10" width="3.8" height="3.8"/><rect x="290.60" y="554.85" width="3.8" height="3.8"/><rect x="311.10" y="549.85" width="3.8" height="3.8"/><rect x="316.60" y="548.85" width="3.8" height="3.8"/><rect x="331.35" y="535.85" width="3.8" height="3.8"/><rect x="336.85" y="535.85" width="3.8" height="3.8"/><rect x="342.10" y="535.85" width="3.8" height="3.8"/><rect x="353.85" y="535.85" width="3.8" height="3.8"/><rect x="359.35" y="535.85" width="3.8" height="3.8"/><rect x="364.85" y="535.85" width="3.8" height="3.8"/><rect x="376.85" y="535.85" width="3.8" height="3.8"/><rect x="382.35" y="535.85" width="3.8" height="3.8"/><rect x="387.60" y="535.85" width="3.8" height="3.8"/><rect x="403.10" y="535.85" width="3.8" height="3.8"/><rect x="408.60" y="535.85" width="3.8" height="3.8"/><rect x="405.60" y="554.35" width="3.8" height="3.8"/></g>
<text transform="translate(271.90,586.4) rotate(-90) scale(1.13,1)" text-anchor="end" font-weight="bold" font-style="italic" font-size="9">Desulfovibrio</text>
<text transform="translate(295.40,586.4) rotate(-90) scale(1.13,1)" text-anchor="end" font-weight="bold" font-style="italic" font-size="9">Campylobacterales</text>
<text transform="translate(317.90,586.4) rotate(-90) scale(1.13,1)" text-anchor="end" font-weight="bold" font-style="italic" font-size="9">Helicobacter</text>
<text transform="translate(341.40,586.4) rotate(-90) scale(1.13,1)" text-anchor="end" font-weight="bold" font-style="italic" font-size="9">Alcaligenes</text>
<text transform="translate(364.40,586.4) rotate(-90) scale(1.13,1)" text-anchor="end" font-weight="bold" font-style="italic" font-size="9">Serratia</text>
<text transform="translate(387.90,586.4) rotate(-90) scale(1.13,1)" text-anchor="end" font-weight="bold" font-style="italic" font-size="9">Anaeroplasma</text>
<text transform="translate(410.40,586.4) rotate(-90) scale(1.13,1)" text-anchor="end" font-weight="bold" font-style="italic" font-size="9">Proteus</text>
</svg>
</body></html>
